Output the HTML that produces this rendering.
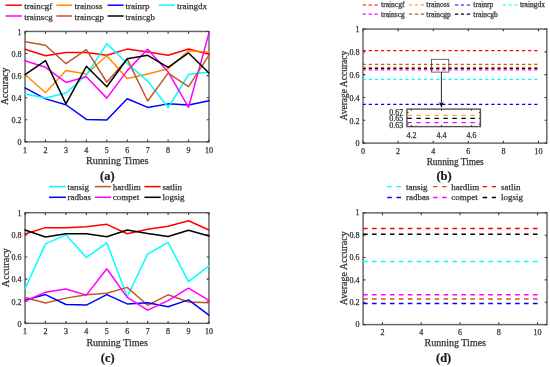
<!DOCTYPE html>
<html><head><meta charset="utf-8"><title>Accuracy comparison</title>
<style>
html,body{margin:0;padding:0;background:#fff;}
body{width:550px;height:367px;overflow:hidden;}
svg{display:block;}
text{font-family:"Liberation Serif", "Times New Roman", serif;fill:#333333;stroke:#333333;stroke-width:0.25px;}
</style></head><body>
<svg width="550" height="367" viewBox="0 0 550 367">
<rect width="550" height="367" fill="#fff"/>
<rect x="25.05" y="31.45" width="183.95" height="110.4" fill="none" stroke="#646464" stroke-width="1.45"/>
<path d="M25.05 141.85v-2.3M25.05 31.45v2.3M45.49 141.85v-2.3M45.49 31.45v2.3M65.93 141.85v-2.3M65.93 31.45v2.3M86.37 141.85v-2.3M86.37 31.45v2.3M106.81 141.85v-2.3M106.81 31.45v2.3M127.24 141.85v-2.3M127.24 31.45v2.3M147.68 141.85v-2.3M147.68 31.45v2.3M168.12 141.85v-2.3M168.12 31.45v2.3M188.56 141.85v-2.3M188.56 31.45v2.3M209 141.85v-2.3M209 31.45v2.3M25.05 141.85h2.3M209 141.85h-2.3M25.05 119.77h2.3M209 119.77h-2.3M25.05 97.69h2.3M209 97.69h-2.3M25.05 75.61h2.3M209 75.61h-2.3M25.05 53.53h2.3M209 53.53h-2.3M25.05 31.45h2.3M209 31.45h-2.3" stroke="#3a3a3a" stroke-width="1.1" fill="none"/>
<text x="25.05" y="153.1" text-anchor="middle" font-size="8">1</text>
<text x="45.49" y="153.1" text-anchor="middle" font-size="8">2</text>
<text x="65.93" y="153.1" text-anchor="middle" font-size="8">3</text>
<text x="86.37" y="153.1" text-anchor="middle" font-size="8">4</text>
<text x="106.81" y="153.1" text-anchor="middle" font-size="8">5</text>
<text x="127.24" y="153.1" text-anchor="middle" font-size="8">6</text>
<text x="147.68" y="153.1" text-anchor="middle" font-size="8">7</text>
<text x="168.12" y="153.1" text-anchor="middle" font-size="8">8</text>
<text x="188.56" y="153.1" text-anchor="middle" font-size="8">9</text>
<text x="209" y="153.1" text-anchor="middle" font-size="8">10</text>
<text x="21.55" y="145.15" text-anchor="end" font-size="8">0</text>
<text x="21.55" y="123.07" text-anchor="end" font-size="8">0.2</text>
<text x="21.55" y="100.99" text-anchor="end" font-size="8">0.4</text>
<text x="21.55" y="78.91" text-anchor="end" font-size="8">0.6</text>
<text x="21.55" y="56.83" text-anchor="end" font-size="8">0.8</text>
<text x="21.55" y="34.75" text-anchor="end" font-size="8">1</text>
<polyline points="25.05,49.33 45.49,55.74 65.93,52.43 86.37,52.43 106.81,55.19 127.24,49.11 147.68,52.09 168.12,55.3 188.56,49 209,54.3" fill="none" stroke="#ff0000" stroke-width="1.5" stroke-linejoin="round" stroke-linecap="round"/>
<polyline points="25.05,74.51 45.49,92.72 65.93,70.53 86.37,73.95 106.81,55.74 127.24,78.59 147.68,73.95 168.12,68.77 188.56,50.77 209,52.32" fill="none" stroke="#ff8c00" stroke-width="1.5" stroke-linejoin="round" stroke-linecap="round"/>
<polyline points="25.05,87.86 45.49,98.9 65.93,104.76 86.37,119.44 106.81,120.1 127.24,98.79 147.68,107.41 168.12,103.87 188.56,105.09 209,100.67" fill="none" stroke="#0000ff" stroke-width="1.5" stroke-linejoin="round" stroke-linecap="round"/>
<polyline points="25.05,93.94 45.49,98.02 65.93,92.94 86.37,75.06 106.81,43.59 127.24,63.47 147.68,81.13 168.12,107.52 188.56,74.51 209,71.97" fill="none" stroke="#00ffff" stroke-width="1.5" stroke-linejoin="round" stroke-linecap="round"/>
<polyline points="25.05,60.82 45.49,67.33 65.93,82.45 86.37,76.71 106.81,98.13 127.24,70.64 147.68,49.22 168.12,71.97 188.56,107.29 209,32.89" fill="none" stroke="#ff00ff" stroke-width="1.5" stroke-linejoin="round" stroke-linecap="round"/>
<polyline points="25.05,41.83 45.49,45.25 65.93,63.69 86.37,49.67 106.81,82.23 127.24,59.05 147.68,101 168.12,73.18 188.56,86.65 209,55.08" fill="none" stroke="#c4562a" stroke-width="1.5" stroke-linejoin="round" stroke-linecap="round"/>
<polyline points="25.05,74.51 45.49,60.6 65.93,103.87 86.37,66.34 106.81,86.76 127.24,58.72 147.68,55.3 168.12,67.33 188.56,52.98 209,73.07" fill="none" stroke="#000000" stroke-width="1.5" stroke-linejoin="round" stroke-linecap="round"/>
<line x1="5.5" y1="5.2" x2="21.8" y2="5.2" stroke="#ff0000" stroke-width="1.5"/>
<text x="24.2" y="8.7" font-size="9" text-anchor="start">traincgf</text>
<line x1="56.4" y1="5.2" x2="72" y2="5.2" stroke="#ff8c00" stroke-width="1.5"/>
<text x="74.4" y="8.7" font-size="9" text-anchor="start">trainoss</text>
<line x1="107.6" y1="5.2" x2="123.6" y2="5.2" stroke="#0000ff" stroke-width="1.5"/>
<text x="125.6" y="8.7" font-size="9" text-anchor="start">trainrp</text>
<line x1="158.6" y1="5.2" x2="175" y2="5.2" stroke="#00ffff" stroke-width="1.5"/>
<text x="177" y="8.7" font-size="9" text-anchor="start">traingdx</text>
<line x1="5.5" y1="16" x2="21.8" y2="16" stroke="#ff00ff" stroke-width="1.5"/>
<text x="24.2" y="19.5" font-size="9" text-anchor="start">trainscg</text>
<line x1="56.4" y1="16" x2="72" y2="16" stroke="#c4562a" stroke-width="1.5"/>
<text x="74.4" y="19.5" font-size="9" text-anchor="start">traincgp</text>
<line x1="107.6" y1="16" x2="123.6" y2="16" stroke="#000000" stroke-width="1.5"/>
<text x="125.6" y="19.5" font-size="9" text-anchor="start">traincgb</text>
<text x="117.3" y="164.2" font-size="10.2" text-anchor="middle">Running Times</text>
<text x="107.3" y="180" font-size="12.4" text-anchor="middle" font-weight="bold" style="fill:#1a1a1a;stroke:#1a1a1a;stroke-width:0.2px">(a)</text>
<text x="0" y="0" font-size="9.8" text-anchor="middle" transform="translate(8.4 86.25) rotate(-90)">Accuracy</text>
<rect x="363" y="29.05" width="183.8" height="114.05" fill="none" stroke="#646464" stroke-width="1.45"/>
<path d="M363 143.1v-2.3M363 29.05v2.3M398.1 143.1v-2.3M398.1 29.05v2.3M433.19 143.1v-2.3M433.19 29.05v2.3M468.29 143.1v-2.3M468.29 29.05v2.3M503.39 143.1v-2.3M503.39 29.05v2.3M538.48 143.1v-2.3M538.48 29.05v2.3M363 143.1h2.3M546.8 143.1h-2.3M363 120.29h2.3M546.8 120.29h-2.3M363 97.48h2.3M546.8 97.48h-2.3M363 74.67h2.3M546.8 74.67h-2.3M363 51.86h2.3M546.8 51.86h-2.3M363 29.05h2.3M546.8 29.05h-2.3" stroke="#3a3a3a" stroke-width="1.1" fill="none"/>
<text x="363" y="154.2" text-anchor="middle" font-size="8">0</text>
<text x="398.1" y="154.2" text-anchor="middle" font-size="8">2</text>
<text x="433.19" y="154.2" text-anchor="middle" font-size="8">4</text>
<text x="468.29" y="154.2" text-anchor="middle" font-size="8">6</text>
<text x="503.39" y="154.2" text-anchor="middle" font-size="8">8</text>
<text x="538.48" y="154.2" text-anchor="middle" font-size="8">10</text>
<text x="359.5" y="146.4" text-anchor="end" font-size="8">0</text>
<text x="359.5" y="123.59" text-anchor="end" font-size="8">0.2</text>
<text x="359.5" y="100.78" text-anchor="end" font-size="8">0.4</text>
<text x="359.5" y="77.97" text-anchor="end" font-size="8">0.6</text>
<text x="359.5" y="55.16" text-anchor="end" font-size="8">0.8</text>
<text x="359.5" y="32.35" text-anchor="end" font-size="8">1</text>
<line x1="363.0" y1="50.65" x2="537.6" y2="50.65" stroke="#ff0000" stroke-width="1.15" stroke-dasharray="3.2 2.93" stroke-dashoffset="0.4"/>
<line x1="363.0" y1="64.4" x2="537.6" y2="64.4" stroke="#c4562a" stroke-width="1.15" stroke-dasharray="3.2 2.93" stroke-dashoffset="0.4"/>
<line x1="363.0" y1="67.3" x2="537.6" y2="67.3" stroke="#ffaa22" stroke-width="1.15" stroke-dasharray="3.2 2.93" stroke-dashoffset="0.4"/>
<line x1="363.0" y1="68.4" x2="537.6" y2="68.4" stroke="#000000" stroke-width="1.15" stroke-dasharray="3.2 2.93" stroke-dashoffset="0.4"/>
<line x1="363.0" y1="69.9" x2="537.6" y2="69.9" stroke="#ff00ff" stroke-width="1.15" stroke-dasharray="3.2 2.93" stroke-dashoffset="0.4"/>
<line x1="363.0" y1="79.3" x2="537.6" y2="79.3" stroke="#00ffff" stroke-width="1.15" stroke-dasharray="3.2 2.93" stroke-dashoffset="0.4"/>
<line x1="363.0" y1="104.3" x2="537.6" y2="104.3" stroke="#0000ff" stroke-width="1.15" stroke-dasharray="3.2 2.93" stroke-dashoffset="0.4"/>
<rect x="431.4" y="59.3" width="17.4" height="12.8" fill="none" stroke="#444" stroke-width="0.8"/>
<line x1="441.4" y1="72.1" x2="441.4" y2="104" stroke="#111" stroke-width="0.9"/>
<path d="M439.1 102.1 L441.4 108.1 L443.7 102.1 L441.4 103.6 Z" fill="#111"/>
<rect x="406.9" y="109.1" width="73.5" height="17.5" fill="#fff" stroke="#555" stroke-width="1.4"/>
<line x1="407.4" y1="115.4" x2="480" y2="115.4" stroke="#ffaa22" stroke-width="1.3" stroke-dasharray="4.4 4.6"/>
<line x1="407.4" y1="118.3" x2="480" y2="118.3" stroke="#000000" stroke-width="1.3" stroke-dasharray="4.4 4.6"/>
<line x1="407.4" y1="122.6" x2="480" y2="122.6" stroke="#ff00ff" stroke-width="1.3" stroke-dasharray="4.4 4.6"/>
<path d="M406.9 112.4h1.6M406.9 118.3h1.6M406.9 124.2h1.6M480.4 112.4h-1.6M480.4 118.3h-1.6M480.4 124.2h-1.6M411.4 109.1v1.6M441.5 109.1v1.6M471.6 109.1v1.6M411.4 126.6v-1.6M441.5 126.6v-1.6M471.6 126.6v-1.6" stroke="#333" stroke-width="1"/>
<text x="403.3" y="114.9" font-size="8" text-anchor="end">0.67</text>
<text x="403.3" y="121" font-size="8" text-anchor="end">0.65</text>
<text x="403.3" y="127.8" font-size="8" text-anchor="end">0.63</text>
<text x="411.4" y="138.2" font-size="8" text-anchor="middle">4.2</text>
<text x="441.5" y="138.2" font-size="8" text-anchor="middle">4.4</text>
<text x="471.6" y="138.2" font-size="8" text-anchor="middle">4.6</text>
<line x1="362.7" y1="5" x2="378" y2="5" stroke="#ff0000" stroke-width="1.1" stroke-dasharray="3.2 2.7"/>
<text x="381.1" y="7.3" font-size="7.5" text-anchor="start">traincgf</text>
<line x1="409" y1="5" x2="425" y2="5" stroke="#ff8c00" stroke-width="1.1" stroke-dasharray="3.2 2.7"/>
<text x="426.3" y="7.3" font-size="7.5" text-anchor="start">trainoss</text>
<line x1="455" y1="5" x2="471" y2="5" stroke="#0000ff" stroke-width="1.1" stroke-dasharray="3.2 2.7"/>
<text x="473.3" y="7.3" font-size="7.5" text-anchor="start">trainrp</text>
<line x1="502.7" y1="5" x2="518" y2="5" stroke="#00ffff" stroke-width="1.1" stroke-dasharray="3.2 2.7"/>
<text x="520" y="7.3" font-size="7.5" text-anchor="start">traingdx</text>
<line x1="362.7" y1="14.1" x2="378" y2="14.1" stroke="#ff00ff" stroke-width="1.1" stroke-dasharray="3.2 2.7"/>
<text x="381.1" y="16.8" font-size="7.5" text-anchor="start">trainscg</text>
<line x1="409" y1="14.1" x2="425" y2="14.1" stroke="#c4562a" stroke-width="1.1" stroke-dasharray="3.2 2.7"/>
<text x="426.3" y="16.8" font-size="7.5" text-anchor="start">traincgp</text>
<line x1="455" y1="14.1" x2="471" y2="14.1" stroke="#000000" stroke-width="1.1" stroke-dasharray="3.2 2.7"/>
<text x="473.3" y="16.8" font-size="7.5" text-anchor="start">traincgb</text>
<text x="455.2" y="164.5" font-size="9.3" text-anchor="middle">Running Times</text>
<text x="444.1" y="179.8" font-size="12.6" text-anchor="middle" font-weight="bold" style="fill:#1a1a1a;stroke:#1a1a1a;stroke-width:0.2px">(b)</text>
<text x="0" y="0" font-size="9.5" text-anchor="middle" transform="translate(346.5 85.6) rotate(-90)">Average Accuracy</text>
<rect x="25.05" y="212.7" width="183.9" height="110.65" fill="none" stroke="#646464" stroke-width="1.45"/>
<path d="M25.05 323.35v-2.3M25.05 212.7v2.3M45.48 323.35v-2.3M45.48 212.7v2.3M65.92 323.35v-2.3M65.92 212.7v2.3M86.35 323.35v-2.3M86.35 212.7v2.3M106.78 323.35v-2.3M106.78 212.7v2.3M127.22 323.35v-2.3M127.22 212.7v2.3M147.65 323.35v-2.3M147.65 212.7v2.3M168.08 323.35v-2.3M168.08 212.7v2.3M188.52 323.35v-2.3M188.52 212.7v2.3M208.95 323.35v-2.3M208.95 212.7v2.3M25.05 323.35h2.3M208.95 323.35h-2.3M25.05 301.22h2.3M208.95 301.22h-2.3M25.05 279.09h2.3M208.95 279.09h-2.3M25.05 256.96h2.3M208.95 256.96h-2.3M25.05 234.83h2.3M208.95 234.83h-2.3M25.05 212.7h2.3M208.95 212.7h-2.3" stroke="#3a3a3a" stroke-width="1.1" fill="none"/>
<text x="25.05" y="334.2" text-anchor="middle" font-size="8">1</text>
<text x="45.48" y="334.2" text-anchor="middle" font-size="8">2</text>
<text x="65.92" y="334.2" text-anchor="middle" font-size="8">3</text>
<text x="86.35" y="334.2" text-anchor="middle" font-size="8">4</text>
<text x="106.78" y="334.2" text-anchor="middle" font-size="8">5</text>
<text x="127.22" y="334.2" text-anchor="middle" font-size="8">6</text>
<text x="147.65" y="334.2" text-anchor="middle" font-size="8">7</text>
<text x="168.08" y="334.2" text-anchor="middle" font-size="8">8</text>
<text x="188.52" y="334.2" text-anchor="middle" font-size="8">9</text>
<text x="208.95" y="334.2" text-anchor="middle" font-size="8">10</text>
<text x="21.55" y="326.65" text-anchor="end" font-size="8">0</text>
<text x="21.55" y="304.52" text-anchor="end" font-size="8">0.2</text>
<text x="21.55" y="282.39" text-anchor="end" font-size="8">0.4</text>
<text x="21.55" y="260.26" text-anchor="end" font-size="8">0.6</text>
<text x="21.55" y="238.13" text-anchor="end" font-size="8">0.8</text>
<text x="21.55" y="216" text-anchor="end" font-size="8">1</text>
<polyline points="25.05,288.72 45.48,243.9 65.92,234.83 86.35,257.51 106.78,242.8 127.22,296.79 147.65,254.19 168.08,242.46 188.52,281.63 208.95,265.81" fill="none" stroke="#00ffff" stroke-width="1.5" stroke-linejoin="round" stroke-linecap="round"/>
<polyline points="25.05,297.57 45.48,302.99 65.92,298.12 86.35,294.8 106.78,293.25 127.22,287.39 147.65,305.31 168.08,294.8 188.52,301.99 208.95,302.77" fill="none" stroke="#c4562a" stroke-width="1.5" stroke-linejoin="round" stroke-linecap="round"/>
<polyline points="25.05,234.06 45.48,227.64 65.92,227.86 86.35,226.64 106.78,224.32 127.22,233.72 147.65,229.3 168.08,226.31 188.52,220.78 208.95,229.96" fill="none" stroke="#ff0000" stroke-width="1.5" stroke-linejoin="round" stroke-linecap="round"/>
<polyline points="25.05,300.11 45.48,294.58 65.92,304.54 86.35,305.09 106.78,294.58 127.22,303.88 147.65,302.77 168.08,306.75 188.52,299.89 208.95,315.05" fill="none" stroke="#0000ff" stroke-width="1.5" stroke-linejoin="round" stroke-linecap="round"/>
<polyline points="25.05,301.22 45.48,292.15 65.92,288.94 86.35,295.13 106.78,268.8 127.22,297.35 147.65,310.18 168.08,300.56 188.52,288.16 208.95,300.33" fill="none" stroke="#ff00ff" stroke-width="1.5" stroke-linejoin="round" stroke-linecap="round"/>
<polyline points="25.05,230.07 45.48,237.04 65.92,233.72 86.35,233.72 106.78,236.82 127.22,230.07 147.65,233.5 168.08,236.49 188.52,230.29 208.95,235.94" fill="none" stroke="#000000" stroke-width="1.5" stroke-linejoin="round" stroke-linecap="round"/>
<line x1="49" y1="186.6" x2="65.9" y2="186.6" stroke="#00ffff" stroke-width="1.5"/>
<text x="67.6" y="189.5" font-size="9" text-anchor="start">tansig</text>
<line x1="94.7" y1="186.6" x2="111.1" y2="186.6" stroke="#c4562a" stroke-width="1.5"/>
<text x="112.8" y="189.5" font-size="9" text-anchor="start">hardlim</text>
<line x1="144.4" y1="186.6" x2="160.7" y2="186.6" stroke="#ff0000" stroke-width="1.5"/>
<text x="162.5" y="189.5" font-size="9" text-anchor="start">satlin</text>
<line x1="49" y1="197.3" x2="65.9" y2="197.3" stroke="#0000ff" stroke-width="1.5"/>
<text x="67.6" y="200.2" font-size="9" text-anchor="start">radbas</text>
<line x1="94.7" y1="197.3" x2="111.1" y2="197.3" stroke="#ff00ff" stroke-width="1.5"/>
<text x="112.8" y="200.2" font-size="9" text-anchor="start">compet</text>
<line x1="144.4" y1="197.3" x2="160.7" y2="197.3" stroke="#000000" stroke-width="1.5"/>
<text x="162.5" y="200.2" font-size="9" text-anchor="start">logsig</text>
<text x="117.1" y="345.5" font-size="10" text-anchor="middle">Running Times</text>
<text x="107.7" y="361.7" font-size="12.4" text-anchor="middle" font-weight="bold" style="fill:#1a1a1a;stroke:#1a1a1a;stroke-width:0.2px">(c)</text>
<text x="0" y="0" font-size="10.2" text-anchor="middle" transform="translate(9 267.7) rotate(-90)">Accuracy</text>
<rect x="363.1" y="212.85" width="183.9" height="111.75" fill="none" stroke="#646464" stroke-width="1.45"/>
<path d="M382.48 324.6v-2.3M382.48 212.85v2.3M421.23 324.6v-2.3M421.23 212.85v2.3M459.99 324.6v-2.3M459.99 212.85v2.3M498.75 324.6v-2.3M498.75 212.85v2.3M537.5 324.6v-2.3M537.5 212.85v2.3M363.1 324.6h2.3M547 324.6h-2.3M363.1 302.25h2.3M547 302.25h-2.3M363.1 279.9h2.3M547 279.9h-2.3M363.1 257.55h2.3M547 257.55h-2.3M363.1 235.2h2.3M547 235.2h-2.3M363.1 212.85h2.3M547 212.85h-2.3" stroke="#3a3a3a" stroke-width="1.1" fill="none"/>
<text x="382.48" y="334.8" text-anchor="middle" font-size="8">2</text>
<text x="421.23" y="334.8" text-anchor="middle" font-size="8">4</text>
<text x="459.99" y="334.8" text-anchor="middle" font-size="8">6</text>
<text x="498.75" y="334.8" text-anchor="middle" font-size="8">8</text>
<text x="537.5" y="334.8" text-anchor="middle" font-size="8">10</text>
<text x="359.6" y="327.2" text-anchor="end" font-size="8">0</text>
<text x="359.6" y="304.85" text-anchor="end" font-size="8">0.2</text>
<text x="359.6" y="282.5" text-anchor="end" font-size="8">0.4</text>
<text x="359.6" y="260.15" text-anchor="end" font-size="8">0.6</text>
<text x="359.6" y="237.8" text-anchor="end" font-size="8">0.8</text>
<text x="359.6" y="215.45" text-anchor="end" font-size="8">1</text>
<line x1="363.1" y1="228.5" x2="537.8" y2="228.5" stroke="#ff0000" stroke-width="1.5" stroke-dasharray="4.6 4.34" stroke-dashoffset="0"/>
<line x1="363.1" y1="234.3" x2="537.8" y2="234.3" stroke="#000000" stroke-width="1.5" stroke-dasharray="4.6 4.34" stroke-dashoffset="0"/>
<line x1="363.1" y1="261.4" x2="537.8" y2="261.4" stroke="#00ffff" stroke-width="1.5" stroke-dasharray="4.6 4.34" stroke-dashoffset="0"/>
<line x1="363.1" y1="294.8" x2="537.8" y2="294.8" stroke="#ff00ff" stroke-width="1.5" stroke-dasharray="4.6 4.34" stroke-dashoffset="0"/>
<line x1="363.1" y1="298.9" x2="537.8" y2="298.9" stroke="#c4562a" stroke-width="1.5" stroke-dasharray="4.6 4.34" stroke-dashoffset="0"/>
<line x1="363.1" y1="303.4" x2="537.8" y2="303.4" stroke="#0000ff" stroke-width="1.5" stroke-dasharray="4.6 4.34" stroke-dashoffset="0"/>
<line x1="387.3" y1="186.6" x2="401.5" y2="186.6" stroke="#00ffff" stroke-width="1.4" stroke-dasharray="4.5 4.7"/>
<text x="405.9" y="189.5" font-size="9" text-anchor="start">tansig</text>
<line x1="433" y1="186.6" x2="449" y2="186.6" stroke="#c4562a" stroke-width="1.4" stroke-dasharray="4.5 4.7"/>
<text x="451.3" y="189.5" font-size="9" text-anchor="start">hardlim</text>
<line x1="482.6" y1="186.6" x2="496" y2="186.6" stroke="#ff0000" stroke-width="1.4" stroke-dasharray="4.5 4.7"/>
<text x="501.1" y="189.5" font-size="9" text-anchor="start">satlin</text>
<line x1="387.3" y1="197.5" x2="401.5" y2="197.5" stroke="#0000ff" stroke-width="1.4" stroke-dasharray="4.5 4.7"/>
<text x="405.9" y="200.4" font-size="9" text-anchor="start">radbas</text>
<line x1="433" y1="197.5" x2="449" y2="197.5" stroke="#ff00ff" stroke-width="1.4" stroke-dasharray="4.5 4.7"/>
<text x="451.3" y="200.4" font-size="9" text-anchor="start">compet</text>
<line x1="482.6" y1="197.5" x2="496" y2="197.5" stroke="#000000" stroke-width="1.4" stroke-dasharray="4.5 4.7"/>
<text x="501.1" y="200.4" font-size="9" text-anchor="start">logsig</text>
<text x="455.3" y="345.5" font-size="10" text-anchor="middle">Running Times</text>
<text x="443.6" y="361.7" font-size="12.4" text-anchor="middle" font-weight="bold" style="fill:#1a1a1a;stroke:#1a1a1a;stroke-width:0.2px">(d)</text>
<text x="0" y="0" font-size="10.1" text-anchor="middle" transform="translate(347 268.3) rotate(-90)">Average Accuracy</text>
</svg>
</body></html>
